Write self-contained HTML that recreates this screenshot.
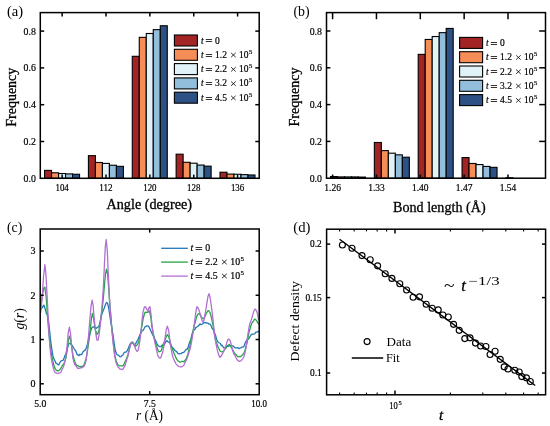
<!DOCTYPE html><html><head><meta charset="utf-8"><style>html,body{margin:0;padding:0;background:#fff;width:550px;height:426px;overflow:hidden}svg{display:block;will-change:transform} .s{stroke:#000;stroke-width:0.2px} .L{stroke:#000;stroke-width:0.3px}</style></head><body><svg width="550" height="426" viewBox="0 0 550 426" font-family='"Liberation Serif", serif' fill="#000">
<rect width="550" height="426" fill="#fff"/>
<rect x="44.55" y="170.39" width="7" height="7.91" fill="#a22424" stroke="#000" stroke-width="1.1"/>
<rect x="51.55" y="172.78" width="7" height="5.52" fill="#f58d57" stroke="#000" stroke-width="1.1"/>
<rect x="58.55" y="173.52" width="7" height="4.78" fill="#e0f1f7" stroke="#000" stroke-width="1.1"/>
<rect x="65.55" y="173.88" width="7" height="4.42" fill="#92bedb" stroke="#000" stroke-width="1.1"/>
<rect x="72.55" y="174.25" width="7" height="4.05" fill="#2d5184" stroke="#000" stroke-width="1.1"/>
<rect x="88.41" y="155.67" width="7" height="22.63" fill="#a22424" stroke="#000" stroke-width="1.1"/>
<rect x="95.41" y="162.48" width="7" height="15.82" fill="#f58d57" stroke="#000" stroke-width="1.1"/>
<rect x="102.41" y="163.4" width="7" height="14.9" fill="#e0f1f7" stroke="#000" stroke-width="1.1"/>
<rect x="109.41" y="165.24" width="7" height="13.06" fill="#92bedb" stroke="#000" stroke-width="1.1"/>
<rect x="116.41" y="166.34" width="7" height="11.96" fill="#2d5184" stroke="#000" stroke-width="1.1"/>
<rect x="132.27" y="56.31" width="7" height="121.99" fill="#a22424" stroke="#000" stroke-width="1.1"/>
<rect x="139.27" y="37.36" width="7" height="140.94" fill="#f58d57" stroke="#000" stroke-width="1.1"/>
<rect x="146.27" y="33.49" width="7" height="144.81" fill="#e0f1f7" stroke="#000" stroke-width="1.1"/>
<rect x="153.27" y="29.63" width="7" height="148.67" fill="#92bedb" stroke="#000" stroke-width="1.1"/>
<rect x="160.27" y="25.76" width="7" height="152.54" fill="#2d5184" stroke="#000" stroke-width="1.1"/>
<rect x="176.13" y="154.2" width="7" height="24.1" fill="#a22424" stroke="#000" stroke-width="1.1"/>
<rect x="183.13" y="162.29" width="7" height="16.01" fill="#f58d57" stroke="#000" stroke-width="1.1"/>
<rect x="190.13" y="163.21" width="7" height="15.09" fill="#e0f1f7" stroke="#000" stroke-width="1.1"/>
<rect x="197.13" y="165.05" width="7" height="13.25" fill="#92bedb" stroke="#000" stroke-width="1.1"/>
<rect x="204.13" y="166.16" width="7" height="12.14" fill="#2d5184" stroke="#000" stroke-width="1.1"/>
<rect x="219.99" y="172.23" width="7" height="6.07" fill="#a22424" stroke="#000" stroke-width="1.1"/>
<rect x="226.99" y="174.07" width="7" height="4.23" fill="#f58d57" stroke="#000" stroke-width="1.1"/>
<rect x="233.99" y="174.25" width="7" height="4.05" fill="#e0f1f7" stroke="#000" stroke-width="1.1"/>
<rect x="240.99" y="174.62" width="7" height="3.68" fill="#92bedb" stroke="#000" stroke-width="1.1"/>
<rect x="247.99" y="174.99" width="7" height="3.31" fill="#2d5184" stroke="#000" stroke-width="1.1"/>
<rect x="40.3" y="12.6" width="218.9" height="165.7" fill="none" stroke="#000" stroke-width="1.5"/>
<line x1="62.15" y1="178.3" x2="62.15" y2="174.6" stroke="#000" stroke-width="1.5"/>
<line x1="62.15" y1="12.6" x2="62.15" y2="16.5" stroke="#000" stroke-width="1.5"/>
<line x1="106.01" y1="178.3" x2="106.01" y2="174.6" stroke="#000" stroke-width="1.5"/>
<line x1="106.01" y1="12.6" x2="106.01" y2="16.5" stroke="#000" stroke-width="1.5"/>
<line x1="149.87" y1="178.3" x2="149.87" y2="174.6" stroke="#000" stroke-width="1.5"/>
<line x1="149.87" y1="12.6" x2="149.87" y2="16.5" stroke="#000" stroke-width="1.5"/>
<line x1="193.73" y1="178.3" x2="193.73" y2="174.6" stroke="#000" stroke-width="1.5"/>
<line x1="193.73" y1="12.6" x2="193.73" y2="16.5" stroke="#000" stroke-width="1.5"/>
<line x1="237.59" y1="178.3" x2="237.59" y2="174.6" stroke="#000" stroke-width="1.5"/>
<line x1="237.59" y1="12.6" x2="237.59" y2="16.5" stroke="#000" stroke-width="1.5"/>
<text class="s" x="35.8" y="181.8" font-size="10.2" text-anchor="end" textLength="12.3" lengthAdjust="spacingAndGlyphs" >0.0</text>
<line x1="40.3" y1="141.5" x2="44.2" y2="141.5" stroke="#000" stroke-width="1.5"/>
<line x1="259.2" y1="141.5" x2="255.3" y2="141.5" stroke="#000" stroke-width="1.5"/>
<text class="s" x="35.8" y="145" font-size="10.2" text-anchor="end" textLength="12.3" lengthAdjust="spacingAndGlyphs" >0.2</text>
<line x1="40.3" y1="104.7" x2="44.2" y2="104.7" stroke="#000" stroke-width="1.5"/>
<line x1="259.2" y1="104.7" x2="255.3" y2="104.7" stroke="#000" stroke-width="1.5"/>
<text class="s" x="35.8" y="108.2" font-size="10.2" text-anchor="end" textLength="12.3" lengthAdjust="spacingAndGlyphs" >0.4</text>
<line x1="40.3" y1="67.9" x2="44.2" y2="67.9" stroke="#000" stroke-width="1.5"/>
<line x1="259.2" y1="67.9" x2="255.3" y2="67.9" stroke="#000" stroke-width="1.5"/>
<text class="s" x="35.8" y="71.4" font-size="10.2" text-anchor="end" textLength="12.3" lengthAdjust="spacingAndGlyphs" >0.6</text>
<line x1="40.3" y1="31.1" x2="44.2" y2="31.1" stroke="#000" stroke-width="1.5"/>
<line x1="259.2" y1="31.1" x2="255.3" y2="31.1" stroke="#000" stroke-width="1.5"/>
<text class="s" x="35.8" y="34.6" font-size="10.2" text-anchor="end" textLength="12.3" lengthAdjust="spacingAndGlyphs" >0.8</text>
<text class="s" x="62.15" y="190.9" font-size="10" text-anchor="middle" textLength="13.3" lengthAdjust="spacingAndGlyphs" >104</text>
<text class="s" x="106.01" y="190.9" font-size="10" text-anchor="middle" textLength="13.3" lengthAdjust="spacingAndGlyphs" >112</text>
<text class="s" x="149.87" y="190.9" font-size="10" text-anchor="middle" textLength="13.3" lengthAdjust="spacingAndGlyphs" >120</text>
<text class="s" x="193.73" y="190.9" font-size="10" text-anchor="middle" textLength="13.3" lengthAdjust="spacingAndGlyphs" >128</text>
<text class="s" x="237.59" y="190.9" font-size="10" text-anchor="middle" textLength="13.3" lengthAdjust="spacingAndGlyphs" >136</text>
<rect x="174.4" y="35" width="23" height="11" fill="#a22424" stroke="#000" stroke-width="1.1"/>
<text class="s" x="201" y="43.5" font-size="9.5" text-anchor="start" font-style="italic" >t</text>
<line x1="205.8" y1="39.5" x2="212.1" y2="39.5" stroke="#000" stroke-width="0.8"/>
<line x1="205.8" y1="41.5" x2="212.1" y2="41.5" stroke="#000" stroke-width="0.8"/>
<text class="s" x="215.1" y="43.5" font-size="9.5" text-anchor="start" >0</text>
<rect x="174.4" y="49.3" width="23" height="11" fill="#f58d57" stroke="#000" stroke-width="1.1"/>
<text class="s" x="201" y="57.8" font-size="9.5" text-anchor="start" font-style="italic" >t</text>
<line x1="205.8" y1="54.5" x2="212.1" y2="54.5" stroke="#000" stroke-width="0.8"/>
<line x1="205.8" y1="56.5" x2="212.1" y2="56.5" stroke="#000" stroke-width="0.8"/>
<text class="s" x="215.1" y="57.8" font-size="9.5" text-anchor="start" >1.2</text>
<line x1="231.1" y1="52.9" x2="235.7" y2="57.2" stroke="#000" stroke-width="0.8"/>
<line x1="231.1" y1="57.2" x2="235.7" y2="52.9" stroke="#000" stroke-width="0.8"/>
<text class="s" x="239" y="57.8" font-size="9.5" text-anchor="start" >10</text>
<text class="s" x="248.9" y="53.8" font-size="6.6" text-anchor="start" >5</text>
<rect x="174.4" y="63.6" width="23" height="11" fill="#e0f1f7" stroke="#000" stroke-width="1.1"/>
<text class="s" x="201" y="72.1" font-size="9.5" text-anchor="start" font-style="italic" >t</text>
<line x1="205.8" y1="68.5" x2="212.1" y2="68.5" stroke="#000" stroke-width="0.8"/>
<line x1="205.8" y1="70.5" x2="212.1" y2="70.5" stroke="#000" stroke-width="0.8"/>
<text class="s" x="215.1" y="72.1" font-size="9.5" text-anchor="start" >2.2</text>
<line x1="231.1" y1="67.2" x2="235.7" y2="71.5" stroke="#000" stroke-width="0.8"/>
<line x1="231.1" y1="71.5" x2="235.7" y2="67.2" stroke="#000" stroke-width="0.8"/>
<text class="s" x="239" y="72.1" font-size="9.5" text-anchor="start" >10</text>
<text class="s" x="248.9" y="68.1" font-size="6.6" text-anchor="start" >5</text>
<rect x="174.4" y="77.9" width="23" height="11" fill="#92bedb" stroke="#000" stroke-width="1.1"/>
<text class="s" x="201" y="86.4" font-size="9.5" text-anchor="start" font-style="italic" >t</text>
<line x1="205.8" y1="82.5" x2="212.1" y2="82.5" stroke="#000" stroke-width="0.8"/>
<line x1="205.8" y1="84.5" x2="212.1" y2="84.5" stroke="#000" stroke-width="0.8"/>
<text class="s" x="215.1" y="86.4" font-size="9.5" text-anchor="start" >3.2</text>
<line x1="231.1" y1="81.5" x2="235.7" y2="85.8" stroke="#000" stroke-width="0.8"/>
<line x1="231.1" y1="85.8" x2="235.7" y2="81.5" stroke="#000" stroke-width="0.8"/>
<text class="s" x="239" y="86.4" font-size="9.5" text-anchor="start" >10</text>
<text class="s" x="248.9" y="82.4" font-size="6.6" text-anchor="start" >5</text>
<rect x="174.4" y="92.2" width="23" height="11" fill="#2d5184" stroke="#000" stroke-width="1.1"/>
<text class="s" x="201" y="100.7" font-size="9.5" text-anchor="start" font-style="italic" >t</text>
<line x1="205.8" y1="97.5" x2="212.1" y2="97.5" stroke="#000" stroke-width="0.8"/>
<line x1="205.8" y1="99.5" x2="212.1" y2="99.5" stroke="#000" stroke-width="0.8"/>
<text class="s" x="215.1" y="100.7" font-size="9.5" text-anchor="start" >4.5</text>
<line x1="231.1" y1="95.8" x2="235.7" y2="100.1" stroke="#000" stroke-width="0.8"/>
<line x1="231.1" y1="100.1" x2="235.7" y2="95.8" stroke="#000" stroke-width="0.8"/>
<text class="s" x="239" y="100.7" font-size="9.5" text-anchor="start" >10</text>
<text class="s" x="248.9" y="96.7" font-size="6.6" text-anchor="start" >5</text>
<text class="L" x="106.5" y="209.2" font-size="14" text-anchor="start" textLength="85.5" lengthAdjust="spacingAndGlyphs" >Angle (degree)</text>
<text class="L" transform="translate(15.5,126.7) rotate(-90)" font-size="14" textLength="59" lengthAdjust="spacingAndGlyphs">Frequency</text>
<text x="7" y="16.3" font-size="15" text-anchor="start" textLength="16.2" lengthAdjust="spacingAndGlyphs" >(a)</text>
<rect x="330.5" y="176.54" width="7" height="1.66" fill="#a22424" stroke="#000" stroke-width="1.1"/>
<rect x="337.5" y="176.91" width="7" height="1.29" fill="#f58d57" stroke="#000" stroke-width="1.1"/>
<rect x="344.5" y="176.91" width="7" height="1.29" fill="#e0f1f7" stroke="#000" stroke-width="1.1"/>
<rect x="351.5" y="176.91" width="7" height="1.29" fill="#92bedb" stroke="#000" stroke-width="1.1"/>
<rect x="358.5" y="177.1" width="7" height="1.1" fill="#2d5184" stroke="#000" stroke-width="1.1"/>
<rect x="374.35" y="142.5" width="7" height="35.7" fill="#a22424" stroke="#000" stroke-width="1.1"/>
<rect x="381.35" y="150.6" width="7" height="27.6" fill="#f58d57" stroke="#000" stroke-width="1.1"/>
<rect x="388.35" y="153.18" width="7" height="25.02" fill="#e0f1f7" stroke="#000" stroke-width="1.1"/>
<rect x="395.35" y="154.83" width="7" height="23.37" fill="#92bedb" stroke="#000" stroke-width="1.1"/>
<rect x="402.35" y="157.22" width="7" height="20.98" fill="#2d5184" stroke="#000" stroke-width="1.1"/>
<rect x="418.2" y="54.37" width="7" height="123.83" fill="#a22424" stroke="#000" stroke-width="1.1"/>
<rect x="425.2" y="39.46" width="7" height="138.74" fill="#f58d57" stroke="#000" stroke-width="1.1"/>
<rect x="432.2" y="36.52" width="7" height="141.68" fill="#e0f1f7" stroke="#000" stroke-width="1.1"/>
<rect x="439.2" y="32.66" width="7" height="145.54" fill="#92bedb" stroke="#000" stroke-width="1.1"/>
<rect x="446.2" y="28.42" width="7" height="149.78" fill="#2d5184" stroke="#000" stroke-width="1.1"/>
<rect x="462.05" y="157.59" width="7" height="20.61" fill="#a22424" stroke="#000" stroke-width="1.1"/>
<rect x="469.05" y="163.48" width="7" height="14.72" fill="#f58d57" stroke="#000" stroke-width="1.1"/>
<rect x="476.05" y="164.58" width="7" height="13.62" fill="#e0f1f7" stroke="#000" stroke-width="1.1"/>
<rect x="483.05" y="166.42" width="7" height="11.78" fill="#92bedb" stroke="#000" stroke-width="1.1"/>
<rect x="490.05" y="167.34" width="7" height="10.86" fill="#2d5184" stroke="#000" stroke-width="1.1"/>
<rect x="505.9" y="177.83" width="7" height="0.37" fill="#a22424" stroke="#000" stroke-width="1.1"/>
<rect x="326.5" y="12.6" width="219" height="165.6" fill="none" stroke="#000" stroke-width="1.5"/>
<line x1="332.6" y1="178.2" x2="332.6" y2="174.5" stroke="#000" stroke-width="1.5"/>
<line x1="332.6" y1="12.6" x2="332.6" y2="19.2" stroke="#000" stroke-width="1.5"/>
<line x1="376.45" y1="178.2" x2="376.45" y2="174.5" stroke="#000" stroke-width="1.5"/>
<line x1="376.45" y1="12.6" x2="376.45" y2="19.2" stroke="#000" stroke-width="1.5"/>
<line x1="420.3" y1="178.2" x2="420.3" y2="174.5" stroke="#000" stroke-width="1.5"/>
<line x1="420.3" y1="12.6" x2="420.3" y2="19.2" stroke="#000" stroke-width="1.5"/>
<line x1="464.15" y1="178.2" x2="464.15" y2="174.5" stroke="#000" stroke-width="1.5"/>
<line x1="464.15" y1="12.6" x2="464.15" y2="19.2" stroke="#000" stroke-width="1.5"/>
<line x1="508" y1="178.2" x2="508" y2="174.5" stroke="#000" stroke-width="1.5"/>
<line x1="508" y1="12.6" x2="508" y2="19.2" stroke="#000" stroke-width="1.5"/>
<text class="s" x="322" y="181.7" font-size="10.2" text-anchor="end" textLength="12.3" lengthAdjust="spacingAndGlyphs" >0.0</text>
<line x1="326.5" y1="141.4" x2="330.4" y2="141.4" stroke="#000" stroke-width="1.5"/>
<line x1="545.5" y1="141.4" x2="539.2" y2="141.4" stroke="#000" stroke-width="1.5"/>
<text class="s" x="322" y="144.9" font-size="10.2" text-anchor="end" textLength="12.3" lengthAdjust="spacingAndGlyphs" >0.2</text>
<line x1="326.5" y1="104.6" x2="330.4" y2="104.6" stroke="#000" stroke-width="1.5"/>
<line x1="545.5" y1="104.6" x2="539.2" y2="104.6" stroke="#000" stroke-width="1.5"/>
<text class="s" x="322" y="108.1" font-size="10.2" text-anchor="end" textLength="12.3" lengthAdjust="spacingAndGlyphs" >0.4</text>
<line x1="326.5" y1="67.8" x2="330.4" y2="67.8" stroke="#000" stroke-width="1.5"/>
<line x1="545.5" y1="67.8" x2="539.2" y2="67.8" stroke="#000" stroke-width="1.5"/>
<text class="s" x="322" y="71.3" font-size="10.2" text-anchor="end" textLength="12.3" lengthAdjust="spacingAndGlyphs" >0.6</text>
<line x1="326.5" y1="31" x2="330.4" y2="31" stroke="#000" stroke-width="1.5"/>
<line x1="545.5" y1="31" x2="539.2" y2="31" stroke="#000" stroke-width="1.5"/>
<text class="s" x="322" y="34.5" font-size="10.2" text-anchor="end" textLength="12.3" lengthAdjust="spacingAndGlyphs" >0.8</text>
<text class="s" x="332.6" y="190.8" font-size="10" text-anchor="middle" textLength="16.6" lengthAdjust="spacingAndGlyphs" >1.26</text>
<text class="s" x="376.45" y="190.8" font-size="10" text-anchor="middle" textLength="16.6" lengthAdjust="spacingAndGlyphs" >1.33</text>
<text class="s" x="420.3" y="190.8" font-size="10" text-anchor="middle" textLength="16.6" lengthAdjust="spacingAndGlyphs" >1.40</text>
<text class="s" x="464.15" y="190.8" font-size="10" text-anchor="middle" textLength="16.6" lengthAdjust="spacingAndGlyphs" >1.47</text>
<text class="s" x="508" y="190.8" font-size="10" text-anchor="middle" textLength="16.6" lengthAdjust="spacingAndGlyphs" >1.54</text>
<rect x="459.6" y="37.4" width="23" height="11" fill="#a22424" stroke="#000" stroke-width="1.1"/>
<text class="s" x="486" y="45.9" font-size="9.5" text-anchor="start" font-style="italic" >t</text>
<line x1="490.8" y1="42.5" x2="497.1" y2="42.5" stroke="#000" stroke-width="0.8"/>
<line x1="490.8" y1="44.5" x2="497.1" y2="44.5" stroke="#000" stroke-width="0.8"/>
<text class="s" x="500.1" y="45.9" font-size="9.5" text-anchor="start" >0</text>
<rect x="459.6" y="51.7" width="23" height="11" fill="#f58d57" stroke="#000" stroke-width="1.1"/>
<text class="s" x="486" y="60.2" font-size="9.5" text-anchor="start" font-style="italic" >t</text>
<line x1="490.8" y1="56.5" x2="497.1" y2="56.5" stroke="#000" stroke-width="0.8"/>
<line x1="490.8" y1="58.5" x2="497.1" y2="58.5" stroke="#000" stroke-width="0.8"/>
<text class="s" x="500.1" y="60.2" font-size="9.5" text-anchor="start" >1.2</text>
<line x1="516.1" y1="55.3" x2="520.7" y2="59.6" stroke="#000" stroke-width="0.8"/>
<line x1="516.1" y1="59.6" x2="520.7" y2="55.3" stroke="#000" stroke-width="0.8"/>
<text class="s" x="524" y="60.2" font-size="9.5" text-anchor="start" >10</text>
<text class="s" x="533.9" y="56.2" font-size="6.6" text-anchor="start" >5</text>
<rect x="459.6" y="66" width="23" height="11" fill="#e0f1f7" stroke="#000" stroke-width="1.1"/>
<text class="s" x="486" y="74.5" font-size="9.5" text-anchor="start" font-style="italic" >t</text>
<line x1="490.8" y1="70.5" x2="497.1" y2="70.5" stroke="#000" stroke-width="0.8"/>
<line x1="490.8" y1="72.5" x2="497.1" y2="72.5" stroke="#000" stroke-width="0.8"/>
<text class="s" x="500.1" y="74.5" font-size="9.5" text-anchor="start" >2.2</text>
<line x1="516.1" y1="69.6" x2="520.7" y2="73.9" stroke="#000" stroke-width="0.8"/>
<line x1="516.1" y1="73.9" x2="520.7" y2="69.6" stroke="#000" stroke-width="0.8"/>
<text class="s" x="524" y="74.5" font-size="9.5" text-anchor="start" >10</text>
<text class="s" x="533.9" y="70.5" font-size="6.6" text-anchor="start" >5</text>
<rect x="459.6" y="80.3" width="23" height="11" fill="#92bedb" stroke="#000" stroke-width="1.1"/>
<text class="s" x="486" y="88.8" font-size="9.5" text-anchor="start" font-style="italic" >t</text>
<line x1="490.8" y1="85.5" x2="497.1" y2="85.5" stroke="#000" stroke-width="0.8"/>
<line x1="490.8" y1="87.5" x2="497.1" y2="87.5" stroke="#000" stroke-width="0.8"/>
<text class="s" x="500.1" y="88.8" font-size="9.5" text-anchor="start" >3.2</text>
<line x1="516.1" y1="83.9" x2="520.7" y2="88.2" stroke="#000" stroke-width="0.8"/>
<line x1="516.1" y1="88.2" x2="520.7" y2="83.9" stroke="#000" stroke-width="0.8"/>
<text class="s" x="524" y="88.8" font-size="9.5" text-anchor="start" >10</text>
<text class="s" x="533.9" y="84.8" font-size="6.6" text-anchor="start" >5</text>
<rect x="459.6" y="94.6" width="23" height="11" fill="#2d5184" stroke="#000" stroke-width="1.1"/>
<text class="s" x="486" y="103.1" font-size="9.5" text-anchor="start" font-style="italic" >t</text>
<line x1="490.8" y1="99.5" x2="497.1" y2="99.5" stroke="#000" stroke-width="0.8"/>
<line x1="490.8" y1="101.5" x2="497.1" y2="101.5" stroke="#000" stroke-width="0.8"/>
<text class="s" x="500.1" y="103.1" font-size="9.5" text-anchor="start" >4.5</text>
<line x1="516.1" y1="98.2" x2="520.7" y2="102.5" stroke="#000" stroke-width="0.8"/>
<line x1="516.1" y1="102.5" x2="520.7" y2="98.2" stroke="#000" stroke-width="0.8"/>
<text class="s" x="524" y="103.1" font-size="9.5" text-anchor="start" >10</text>
<text class="s" x="533.9" y="99.1" font-size="6.6" text-anchor="start" >5</text>
<text class="L" x="393" y="211.6" font-size="14" text-anchor="start" textLength="92.6" lengthAdjust="spacingAndGlyphs" >Bond length (Å)</text>
<text class="L" transform="translate(298.6,126.5) rotate(-90)" font-size="14" textLength="59" lengthAdjust="spacingAndGlyphs">Frequency</text>
<text x="293.5" y="16.3" font-size="15" text-anchor="start" textLength="16.2" lengthAdjust="spacingAndGlyphs" >(b)</text>
<clipPath id="cc"><rect x="40.2" y="229.0" width="219.0" height="165.7"/></clipPath>
<g clip-path="url(#cc)" fill="none" stroke-width="1.3" stroke-linejoin="round">
<path d="M40.5,309.75 L41.38,309.01 L42.6,306.88 L43.8,305.08 L45.21,308.95 L46.4,313.66 L47.25,314.51 L48,316.69 L48.79,323.11 L49.8,332.82 L50.78,341.96 L51.87,349.52 L53,356.51 L54.07,359 L55.07,361.27 L56,363.28 L56.93,363.73 L58,364.73 L58.88,364.74 L59.87,362.53 L60.92,361 L62,360.62 L63.06,360.32 L64.07,358.03 L65.05,355.58 L66,353.62 L67.14,349.29 L68.1,345.62 L69,343.47 L70,343.33 L71,344.37 L71.9,345.23 L72.86,346.47 L74,348.56 L74.95,349.99 L75.93,351.19 L76.94,354.21 L78,355.2 L79.03,355.54 L80,354.25 L80.97,354.75 L82,354.06 L83.03,351.84 L84,350.9 L84.97,350.38 L86,348.53 L87.05,345.8 L88.05,340.92 L89.03,337.29 L90,333.66 L91.09,329.49 L92.02,327.46 L93.2,326.83 L94.1,327.11 L95.06,327.36 L96.04,328.32 L97.03,327.73 L98,327.15 L99.14,325.67 L100.18,321.47 L101.13,316.71 L102,313.82 L103.14,310.77 L104.1,308.49 L105.01,305.64 L105.94,303.4 L106.8,302.46 L107.6,303.38 L108.5,307.26 L109.52,313.25 L110.7,321.47 L112,329.01 L112.99,334.87 L113.97,342.17 L114.96,348.67 L116,352.57 L117.03,354.58 L118,355.02 L118.97,355.69 L120,356.88 L121.03,356.69 L122,355.48 L122.97,354.94 L124,352.82 L125.05,352.08 L126.05,352.18 L127.02,350.8 L128,349.12 L129.2,346.06 L130.26,343.66 L131.3,342.9 L132.62,342.5 L134,344.82 L134.89,344.49 L135.81,343.42 L136.75,341.59 L137.7,340 L138.75,337.48 L139.7,335.44 L141,332.97 L141.87,330.78 L142.83,330.61 L143.84,329.06 L144.86,326.96 L145.86,326.29 L146.8,325.89 L147.96,325.84 L148.89,326.7 L149.82,328.7 L151,331.21 L151.93,333.23 L152.89,335.29 L153.88,336.82 L154.89,339.3 L155.93,341.36 L157,343.76 L158.06,345.61 L159.08,346.32 L160.07,346.53 L161.04,346.49 L162.02,345.14 L163,345.66 L164.11,345.1 L165.1,342.98 L166.03,341.41 L166.98,340.52 L168,341.93 L169,342.26 L169.92,343.14 L170.83,345.66 L171.82,347.13 L173,347.97 L173.94,348.85 L174.89,350.55 L175.87,351.04 L176.87,351.92 L177.89,353.5 L178.93,353.79 L180,353.62 L181.06,353.72 L182.08,352.62 L183.08,352.57 L184.06,352.13 L185.03,350.84 L186.01,349.35 L187,349.37 L188.11,346.97 L189.12,343.61 L190.07,341.21 L191,338.88 L191.97,334.7 L193,331.73 L194.02,329.8 L194.96,329.36 L195.87,327.34 L196.8,327.05 L197.83,326.33 L199,325.26 L199.96,323.9 L200.95,324.6 L201.96,324.28 L202.97,323.42 L203.99,322.4 L205.01,322.86 L206.02,322.62 L207,323.09 L208.07,323.12 L209.07,324.21 L210,324.03 L210.89,325.09 L211.74,327.59 L212.58,329.19 L213.4,329.52 L214.62,332.96 L215.56,335.19 L216.49,339.19 L217.7,341.84 L218.54,342.45 L219.42,343 L220.32,343.28 L221.24,345.63 L222.17,345.22 L223.09,346.93 L224,348.07 L225.15,347.62 L226.17,346.11 L227.13,346.41 L228.15,346.4 L229.3,345.89 L230.36,345.62 L231.44,345.62 L232.52,345.98 L233.59,346.24 L234.62,347.63 L235.6,347.89 L236.84,347.74 L237.84,347.59 L238.77,348.62 L239.8,348.05 L240.85,347.9 L241.83,347.07 L242.83,347.19 L244,346.35 L245.02,343.3 L246.05,341.3 L247.1,339.62 L248.18,339.25 L249.3,337.86 L250.42,335.81 L251.5,334.26 L252.55,334.18 L253.58,334.11 L254.6,333.88 L255.85,332.09 L257.01,332.2 L257.99,331.64 L258.7,330.86" stroke="#2177b8"/>
<path d="M40.5,306.4 L41.34,302.01 L42.52,294.19 L43.79,288.04 L44.9,287.18 L46.33,298.73 L47.5,316.38 L48.66,330.37 L50,344.1 L50.92,350.76 L51.9,356.8 L52.93,361.47 L54,365.76 L55.03,368.34 L56,369.89 L56.97,370.69 L58,370.89 L59.03,370.32 L60,369.47 L60.97,368.14 L62,366.28 L63.05,364.56 L64.04,363.37 L65.02,361.05 L66,357.68 L67.19,350.29 L68.25,340.81 L69.4,336.16 L70.63,339.62 L71.82,347.75 L73,355.47 L74.03,359.22 L74.93,361.98 L76,364.55 L76.93,365.57 L77.87,365.57 L78.87,366.52 L80,366.56 L80.99,366.43 L81.99,366.53 L83.01,365.97 L84.01,364.82 L85,362.06 L86.12,358.48 L87.11,353.4 L88.04,346.37 L89,340.3 L90.23,330.1 L91.33,319.42 L92.4,313.48 L93.73,318.59 L95,328.57 L95.95,331.81 L96.89,334.46 L98,333.02 L98.94,330.16 L99.9,325.3 L100.91,318.2 L102,310.19 L102.93,302.2 L103.86,291.87 L104.77,281.44 L105.66,273.02 L106.5,269.15 L107.62,273.91 L108.5,285.66 L109.5,300.38 L110.67,313.46 L111.83,328.13 L113,339.94 L114.02,349.53 L114.92,355.64 L116,360.21 L116.95,362.92 L117.93,364.73 L118.94,365.63 L120,365.84 L121.03,365.84 L122,365.92 L122.97,365.83 L124,364.37 L125.05,361.64 L126.05,359.86 L127.02,357.25 L128,354.7 L129.1,349.66 L130.06,345.92 L131.3,342.53 L132.28,342.89 L133.34,343.5 L134.43,344.59 L135.5,346.34 L136.5,345.6 L137.8,343.96 L138.84,341.21 L140,335.83 L141.02,330.5 L142.03,325.28 L143.03,319.27 L144,315.3 L145.1,312.22 L146.02,312.38 L147,312.41 L148.02,312.03 L148.98,310.77 L150,313.38 L150.9,317.75 L151.74,325.61 L153,332.41 L153.87,336.16 L154.84,340.84 L155.87,344.08 L156.92,347.27 L157.98,350.48 L159,351.86 L160.14,351.39 L161.18,350.87 L162.16,347.7 L163.09,344.55 L164,342.5 L165.27,339.44 L166.29,336.54 L167.4,334.61 L168.51,336.42 L169.58,339.8 L171,344.63 L171.92,347.53 L172.92,350.27 L173.97,353.16 L175.03,355.58 L176.05,357.92 L177,359.56 L178.13,361 L179,361.5 L179.87,362.21 L181,361.8 L181.92,361.29 L182.88,361.47 L183.87,361.83 L184.88,360.35 L185.93,359.26 L187,356.85 L188.06,353.62 L189.08,348.97 L190.07,345.15 L191.04,339.71 L192.02,335.24 L193,330.93 L194.11,325.99 L195.1,322.59 L196.03,318.92 L196.98,316.03 L198,314.06 L199.02,313.66 L199.97,314.39 L200.9,316.41 L201.89,317.68 L203,318.62 L204.01,317.96 L205.04,316.57 L206.07,313.8 L207.08,312.04 L208.07,310.68 L209,310.98 L210.22,313.12 L211.23,316.91 L212.13,321.17 L213,324.86 L214.14,333.01 L215.6,340.97 L216.32,342.49 L217.12,344.45 L217.98,346.92 L218.89,348.54 L219.85,350.8 L220.86,351.57 L221.9,351.84 L222.83,351.67 L223.76,350.92 L224.7,349.67 L225.64,348.58 L226.57,347.16 L227.5,345.68 L228.41,345.15 L229.3,344.45 L230.41,345.82 L231.41,347.59 L232.33,349.29 L233.21,350.86 L234.09,352.65 L235,354.14 L236.05,354.69 L236.99,355.89 L237.88,356.79 L238.79,356.72 L239.8,356.28 L240.86,356.59 L241.88,355.54 L242.89,354.41 L243.93,353.14 L245,350.36 L246.06,346.27 L247.06,342.59 L248.03,337.36 L249,332.19 L250,329 L250.97,325.49 L251.87,323.14 L252.73,322.02 L253.59,320.79 L254.5,319.19 L255.71,319.7 L256.9,321.2 L257.95,323.08 L258.7,323.97" stroke="#22a544"/>
<path d="M40.5,313.22 L41.17,307.95 L42.2,297.83 L43.46,277.04 L44.9,264.65 L45.93,274.19 L46.94,292.88 L47.9,312.09 L48.88,331.5 L50,347.62 L50.89,355.59 L51.87,361.35 L52.92,366.54 L54,370.14 L55.03,372.57 L56,372.89 L56.97,373.19 L58,373.41 L59.03,373.15 L60,372.98 L60.97,372.08 L62,369.66 L63.05,367.75 L64.04,364.91 L65.02,360.87 L66,355.43 L67.19,345.13 L68.25,332.68 L69.4,327.25 L70.59,334.11 L71.74,347.28 L73,358.63 L74,362.33 L74.97,364.91 L75.96,365.94 L77,367.51 L78,368.68 L78.93,368.39 L79.89,368.08 L81,367.51 L82,367.82 L83.05,367.09 L84.08,366.27 L85.08,364.1 L86,360.95 L87.17,352.23 L88.05,341.2 L89,330 L90.05,317.49 L91.06,305.9 L92.1,300.09 L93.1,305.2 L94.02,316.43 L95,326.78 L95.95,334.43 L96.85,339.98 L98,340.32 L98.86,336.23 L99.79,329.34 L100.74,320.16 L101.69,310.08 L102.6,298.84 L103.61,282.48 L104.49,262.95 L105.32,246.53 L106.2,239.47 L107.34,251.39 L108.38,276.14 L109.5,298.79 L110.69,316.03 L111.84,329.89 L113,341.62 L114.02,350.77 L114.92,357.32 L116,362.46 L116.95,364.71 L117.93,366.99 L118.94,367.72 L120,369.04 L121.03,369.23 L122,369.56 L122.97,369.08 L124,367.27 L125.03,365.57 L126,362.36 L126.97,358.85 L128,355.93 L129,351.51 L129.93,347.11 L130.89,343.62 L132,341.99 L133,342.25 L134.05,344.24 L135.08,347.87 L136.08,349.97 L137,351.44 L138.18,350.15 L139.06,346 L140,340 L141.04,330.98 L142.02,320.54 L143,312.17 L144.3,307.19 L145.5,306.68 L146.67,309.23 L147.8,311.23 L148.92,307.82 L150,306.74 L150.95,314.05 L152,324.71 L152.9,331.67 L153.86,337.34 L155,343.13 L155.95,347.17 L156.93,351.9 L157.94,355.86 L159,357.47 L160.02,358.24 L160.97,357.31 L161.94,354.29 L163,350.96 L164.12,344.66 L165.23,336.65 L166.32,329.16 L167.4,326.19 L168.67,330.7 L169.78,339.69 L171,348.37 L171.97,353.25 L172.91,357.19 L173.88,359.43 L175,361.92 L175.97,363.82 L176.94,364.94 L177.93,365.88 L178.94,366.43 L180,366.74 L181.02,367.03 L181.97,366.59 L182.9,365.95 L183.89,365.16 L185,362.57 L186.01,360.75 L187.04,358.55 L188.07,355.37 L189.08,351.96 L190.07,349 L191,344.79 L192.23,338.14 L193.27,331.36 L194.17,324.95 L195,318.62 L196.07,310.49 L197,306.68 L197.94,307.71 L198.94,310.03 L200,313.39 L201.02,316.49 L201.98,320.33 L203,322.06 L204.02,319.87 L204.98,314.57 L206,308.75 L207.02,302.28 L207.98,296.44 L209,293.6 L210.02,297.02 L210.98,303.67 L212,310.83 L212.98,319.07 L213.9,328.59 L215,337.24 L215.95,343.41 L216.93,348.46 L217.94,352.56 L219,355.62 L219.98,357.34 L220.86,356.55 L221.82,354.93 L223,352.81 L223.94,350.76 L224.96,347.93 L226,345.38 L227.04,341.89 L228.06,339.33 L229,339.23 L230.18,340.72 L231.14,344.24 L232.02,347.78 L233,351.57 L234.03,354.21 L235,355.65 L235.97,357.75 L237,359.47 L238.03,360.59 L239,361.25 L239.97,361.23 L241,360.76 L242.03,359.77 L243,358.27 L243.97,356.53 L245,352.71 L246.08,347.41 L247.13,339.53 L248.12,332.98 L249,327.32 L249.97,323.07 L251,320.66 L251.98,317.61 L253.11,313.65 L254.29,309.88 L255.4,309.11 L256.74,311.1 L257.89,315.93 L258.7,320.04" stroke="#b16fd2"/>
</g>
<rect x="40.2" y="229" width="219" height="165.7" fill="none" stroke="#000" stroke-width="1.5"/>
<line x1="40.2" y1="383.8" x2="43.8" y2="383.8" stroke="#000" stroke-width="1.5"/>
<line x1="259.2" y1="383.8" x2="255.6" y2="383.8" stroke="#000" stroke-width="1.5"/>
<text class="s" x="35.6" y="387.2" font-size="10" text-anchor="end" >0</text>
<line x1="40.2" y1="339.53" x2="43.8" y2="339.53" stroke="#000" stroke-width="1.5"/>
<line x1="259.2" y1="339.53" x2="255.6" y2="339.53" stroke="#000" stroke-width="1.5"/>
<text class="s" x="35.6" y="342.93" font-size="10" text-anchor="end" >1</text>
<line x1="40.2" y1="295.26" x2="43.8" y2="295.26" stroke="#000" stroke-width="1.5"/>
<line x1="259.2" y1="295.26" x2="255.6" y2="295.26" stroke="#000" stroke-width="1.5"/>
<text class="s" x="35.6" y="298.66" font-size="10" text-anchor="end" >2</text>
<line x1="40.2" y1="250.99" x2="43.8" y2="250.99" stroke="#000" stroke-width="1.5"/>
<line x1="259.2" y1="250.99" x2="255.6" y2="250.99" stroke="#000" stroke-width="1.5"/>
<text class="s" x="35.6" y="254.39" font-size="10" text-anchor="end" >3</text>
<text class="s" x="40.2" y="407.2" font-size="10" text-anchor="middle" textLength="12.1" lengthAdjust="spacingAndGlyphs" >5.0</text>
<line x1="149.7" y1="394.7" x2="149.7" y2="391.1" stroke="#000" stroke-width="1.5"/>
<line x1="149.7" y1="229" x2="149.7" y2="232.6" stroke="#000" stroke-width="1.5"/>
<text class="s" x="149.7" y="407.2" font-size="10" text-anchor="middle" textLength="12.1" lengthAdjust="spacingAndGlyphs" >7.5</text>
<text class="s" x="259.2" y="407.2" font-size="10" text-anchor="middle" textLength="15.7" lengthAdjust="spacingAndGlyphs" >10.0</text>
<line x1="161.2" y1="248.3" x2="187.8" y2="248.3" stroke="#2177b8" stroke-width="1.3"/>
<text class="s" x="190.6" y="251.1" font-size="9.9" text-anchor="start" font-style="italic" >t</text>
<line x1="195.6" y1="247.5" x2="202.17" y2="247.5" stroke="#000" stroke-width="0.8"/>
<line x1="195.6" y1="249.5" x2="202.17" y2="249.5" stroke="#000" stroke-width="0.8"/>
<text class="s" x="205.29" y="251.1" font-size="9.9" text-anchor="start" >0</text>
<line x1="161.2" y1="262.1" x2="187.8" y2="262.1" stroke="#22a544" stroke-width="1.3"/>
<text class="s" x="190.6" y="264.9" font-size="9.9" text-anchor="start" font-style="italic" >t</text>
<line x1="195.6" y1="261.5" x2="202.17" y2="261.5" stroke="#000" stroke-width="0.8"/>
<line x1="195.6" y1="263.5" x2="202.17" y2="263.5" stroke="#000" stroke-width="0.8"/>
<text class="s" x="205.29" y="264.9" font-size="9.9" text-anchor="start" >2.2</text>
<line x1="221.97" y1="259.79" x2="226.76" y2="264.27" stroke="#000" stroke-width="0.83"/>
<line x1="221.97" y1="264.27" x2="226.76" y2="259.79" stroke="#000" stroke-width="0.83"/>
<text class="s" x="230.2" y="264.9" font-size="9.9" text-anchor="start" >10</text>
<text class="s" x="240.52" y="260.73" font-size="6.88" text-anchor="start" >5</text>
<line x1="161.2" y1="276.1" x2="187.8" y2="276.1" stroke="#b16fd2" stroke-width="1.3"/>
<text class="s" x="190.6" y="278.9" font-size="9.9" text-anchor="start" font-style="italic" >t</text>
<line x1="195.6" y1="275.5" x2="202.17" y2="275.5" stroke="#000" stroke-width="0.8"/>
<line x1="195.6" y1="277.5" x2="202.17" y2="277.5" stroke="#000" stroke-width="0.8"/>
<text class="s" x="205.29" y="278.9" font-size="9.9" text-anchor="start" >4.5</text>
<line x1="221.97" y1="273.79" x2="226.76" y2="278.27" stroke="#000" stroke-width="0.83"/>
<line x1="221.97" y1="278.27" x2="226.76" y2="273.79" stroke="#000" stroke-width="0.83"/>
<text class="s" x="230.2" y="278.9" font-size="9.9" text-anchor="start" >10</text>
<text class="s" x="240.52" y="274.73" font-size="6.88" text-anchor="start" >5</text>
<text transform="translate(23.9,329.6) rotate(-90)" font-size="14" textLength="21.4" lengthAdjust="spacingAndGlyphs"><tspan font-style="italic">g</tspan>(<tspan font-style="italic">r</tspan>)</text>
<text x="136" y="420" font-size="14" text-anchor="start" textLength="27" lengthAdjust="spacingAndGlyphs" ><tspan font-style="italic">r</tspan> (Å)</text>
<text x="7" y="231.6" font-size="15" text-anchor="start" textLength="15.2" lengthAdjust="spacingAndGlyphs" >(c)</text>
<rect x="326.6" y="229.2" width="219" height="165.6" fill="none" stroke="#000" stroke-width="1.5"/>
<line x1="339.61" y1="394.8" x2="339.61" y2="392.6" stroke="#000" stroke-width="1.1"/>
<line x1="339.61" y1="229.2" x2="339.61" y2="231.4" stroke="#000" stroke-width="1.1"/>
<line x1="354.18" y1="394.8" x2="354.18" y2="392.6" stroke="#000" stroke-width="1.1"/>
<line x1="354.18" y1="229.2" x2="354.18" y2="231.4" stroke="#000" stroke-width="1.1"/>
<line x1="366.5" y1="394.8" x2="366.5" y2="392.6" stroke="#000" stroke-width="1.1"/>
<line x1="366.5" y1="229.2" x2="366.5" y2="231.4" stroke="#000" stroke-width="1.1"/>
<line x1="377.17" y1="394.8" x2="377.17" y2="392.6" stroke="#000" stroke-width="1.1"/>
<line x1="377.17" y1="229.2" x2="377.17" y2="231.4" stroke="#000" stroke-width="1.1"/>
<line x1="386.58" y1="394.8" x2="386.58" y2="392.6" stroke="#000" stroke-width="1.1"/>
<line x1="386.58" y1="229.2" x2="386.58" y2="231.4" stroke="#000" stroke-width="1.1"/>
<line x1="450.39" y1="394.8" x2="450.39" y2="392.6" stroke="#000" stroke-width="1.1"/>
<line x1="450.39" y1="229.2" x2="450.39" y2="231.4" stroke="#000" stroke-width="1.1"/>
<line x1="482.79" y1="394.8" x2="482.79" y2="392.6" stroke="#000" stroke-width="1.1"/>
<line x1="482.79" y1="229.2" x2="482.79" y2="231.4" stroke="#000" stroke-width="1.1"/>
<line x1="505.78" y1="394.8" x2="505.78" y2="392.6" stroke="#000" stroke-width="1.1"/>
<line x1="505.78" y1="229.2" x2="505.78" y2="231.4" stroke="#000" stroke-width="1.1"/>
<line x1="523.61" y1="394.8" x2="523.61" y2="392.6" stroke="#000" stroke-width="1.1"/>
<line x1="523.61" y1="229.2" x2="523.61" y2="231.4" stroke="#000" stroke-width="1.1"/>
<line x1="538.18" y1="394.8" x2="538.18" y2="392.6" stroke="#000" stroke-width="1.1"/>
<line x1="538.18" y1="229.2" x2="538.18" y2="231.4" stroke="#000" stroke-width="1.1"/>
<line x1="395" y1="394.8" x2="395" y2="390.6" stroke="#000" stroke-width="1.5"/>
<line x1="395" y1="229.2" x2="395" y2="233.4" stroke="#000" stroke-width="1.5"/>
<line x1="326.6" y1="373" x2="330.2" y2="373" stroke="#000" stroke-width="1.5"/>
<line x1="545.6" y1="373" x2="542" y2="373" stroke="#000" stroke-width="1.5"/>
<text class="s" x="321.8" y="376.2" font-size="9.4" text-anchor="end" >0.1</text>
<line x1="326.6" y1="297.6" x2="330.2" y2="297.6" stroke="#000" stroke-width="1.5"/>
<line x1="545.6" y1="297.6" x2="542" y2="297.6" stroke="#000" stroke-width="1.5"/>
<text class="s" x="321.8" y="300.8" font-size="9.4" text-anchor="end" >0.15</text>
<line x1="326.6" y1="244.1" x2="330.2" y2="244.1" stroke="#000" stroke-width="1.5"/>
<line x1="545.6" y1="244.1" x2="542" y2="244.1" stroke="#000" stroke-width="1.5"/>
<text class="s" x="321.8" y="247.3" font-size="9.4" text-anchor="end" >0.2</text>
<text class="s" x="389.3" y="408.8" font-size="10" text-anchor="start" textLength="8.5" lengthAdjust="spacingAndGlyphs" >10</text>
<text class="s" x="398.6" y="404.6" font-size="6.4" text-anchor="start" >5</text>
<line x1="339.6" y1="239.2" x2="535.2" y2="385.4" stroke="#000" stroke-width="1.3"/>
<g fill="none" stroke="#000" stroke-width="1.15">
<circle cx="342.4" cy="245" r="3.0"/>
<circle cx="352" cy="248.2" r="3.0"/>
<circle cx="362" cy="255.6" r="3.0"/>
<circle cx="370.2" cy="259.7" r="3.0"/>
<circle cx="377.6" cy="265.8" r="3.0"/>
<circle cx="385.2" cy="273.7" r="3.0"/>
<circle cx="391.9" cy="278.4" r="3.0"/>
<circle cx="399.8" cy="283.7" r="3.0"/>
<circle cx="406.6" cy="290" r="3.0"/>
<circle cx="413.1" cy="297.2" r="3.0"/>
<circle cx="419.5" cy="296.8" r="3.0"/>
<circle cx="426.2" cy="304.2" r="3.0"/>
<circle cx="432.2" cy="308.2" r="3.0"/>
<circle cx="438.2" cy="309.9" r="3.0"/>
<circle cx="442.9" cy="315" r="3.0"/>
<circle cx="448.3" cy="317" r="3.0"/>
<circle cx="453.6" cy="324.3" r="3.0"/>
<circle cx="459.2" cy="330.3" r="3.0"/>
<circle cx="464.8" cy="338.6" r="3.0"/>
<circle cx="470" cy="337.8" r="3.0"/>
<circle cx="475.5" cy="343.1" r="3.0"/>
<circle cx="480.6" cy="346" r="3.0"/>
<circle cx="485.9" cy="346.5" r="3.0"/>
<circle cx="490.1" cy="354.5" r="3.0"/>
<circle cx="495.1" cy="351.2" r="3.0"/>
<circle cx="500.2" cy="359.3" r="3.0"/>
<circle cx="504.2" cy="366.8" r="3.0"/>
<circle cx="508" cy="369" r="3.0"/>
<circle cx="514.8" cy="370.2" r="3.0"/>
<circle cx="519.2" cy="372" r="3.0"/>
<circle cx="521.8" cy="376.6" r="3.0"/>
<circle cx="526.4" cy="377.8" r="3.0"/>
<circle cx="530.3" cy="381.5" r="3.0"/>
<circle cx="367.1" cy="341.6" r="3.0"/>
</g>
<line x1="351.8" y1="358" x2="383.2" y2="358" stroke="#000" stroke-width="1.4"/>
<text x="386.6" y="345.7" font-size="12.6" text-anchor="start" textLength="24.6" lengthAdjust="spacingAndGlyphs" >Data</text>
<text x="386" y="362.3" font-size="12.6" text-anchor="start" textLength="13.6" lengthAdjust="spacingAndGlyphs" >Fit</text>
<text x="444" y="290.6" font-size="16" text-anchor="start" textLength="10.5" lengthAdjust="spacingAndGlyphs" >~</text>
<text class="L" x="461.2" y="291.3" font-size="16.5" text-anchor="start" font-style="italic" >t</text>
<text x="468.6" y="285" font-size="12" text-anchor="start" textLength="31" lengthAdjust="spacingAndGlyphs" >−1/3</text>
<text class="L" x="439" y="420" font-size="15" text-anchor="start" font-style="italic" >t</text>
<text transform="translate(298.6,361.5) rotate(-90)" font-size="13.4" textLength="80.5" lengthAdjust="spacingAndGlyphs">Defect density</text>
<text x="293.3" y="231.7" font-size="15" text-anchor="start" textLength="17.2" lengthAdjust="spacingAndGlyphs" >(d)</text>
</svg></body></html>
